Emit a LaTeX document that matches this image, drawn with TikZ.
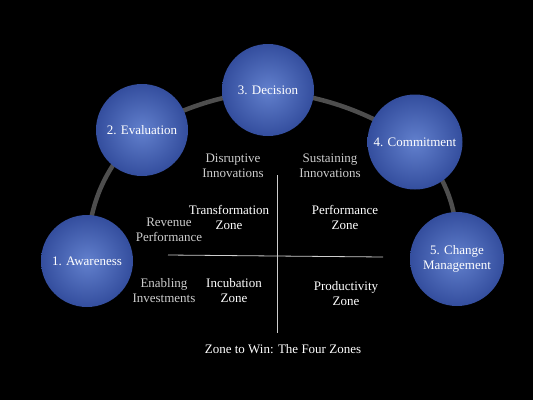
\documentclass[tikz,border=0pt]{standalone}
\usepackage{fontspec}
\setmainfont{Liberation Serif}
\usepackage{tikz}

\definecolor{ballin}{RGB}{98,128,205}
\definecolor{ballout}{RGB}{52,78,158}
\definecolor{arcgrey}{RGB}{78,78,78}
\definecolor{softgrey}{RGB}{205,205,205}

\begin{document}
\begin{tikzpicture}[x=1pt, y=-1pt,
  ball/.style={circle, shading=radial, inner color=ballin, outer color=ballout,
    minimum size=92pt, inner sep=0pt, text=white, align=center,
    font=\fontsize{13}{15}\selectfont},
  zone/.style={text=white, align=center, font=\fontsize{13}{15}\selectfont},
  axis/.style={text=softgrey, align=center, font=\fontsize{13}{15}\selectfont},
  arcline/.style={draw=arcgrey, line width=4.5pt},
  gridline/.style={draw=softgrey, line width=0.8pt}]
\fill[black] (0,0) rectangle (533,400);
\useasboundingbox (0,0) rectangle (533,400);

% centres of the five stages
\coordinate (aw) at (87,261);
\coordinate (ev) at (142,130);
\coordinate (de) at (268,90);
\coordinate (co) at (415,142);
\coordinate (cm) at (457,259);

% arc behind the stages
\draw[arcline] (aw) to[bend left=22] (ev) to[bend left=10] (de)
  to[bend left=12] (co) to[bend left=22] (cm);

% stages
\node[ball] (awareness) at (aw) {1. Awareness};
\node[ball] (evaluation) at (ev) {2. Evaluation};
\node[ball] (decision) at (de) {3. Decision};
\node[ball, minimum size=95pt] (commitment) at (co) {4. Commitment};
\node[ball, minimum size=94pt] (change) at (cm) {5. Change\\Management};

% the four zones
\coordinate (vtop) at (277,175);
\coordinate (vbot) at (277,333);
\coordinate (hleft) at (168,255);
\coordinate (hright) at (383,257);
\draw[gridline] (vtop) -- (vbot);
\draw[gridline] (hleft) -- (hright);

\node[axis] (disruptive) at (233,166) {Disruptive\\Innovations};
\node[axis] (sustaining) at (330,166) {Sustaining\\Innovations};
\node[axis] (revenue) at (169,230) {Revenue\\Performance};
\node[axis] (enabling) at (164,291) {Enabling\\Investments};

\node[zone] (transformation) at (229,217) {Transformation\\Zone};
\node[zone] (performance) at (345,217) {Performance\\Zone};
\node[zone] (incubation) at (234,291) {Incubation\\Zone};
\node[zone] (productivity) at (346,294) {Productivity\\Zone};

\node[zone] (title) at (283,349) {Zone to Win: The Four Zones};
\end{tikzpicture}
\end{document}
